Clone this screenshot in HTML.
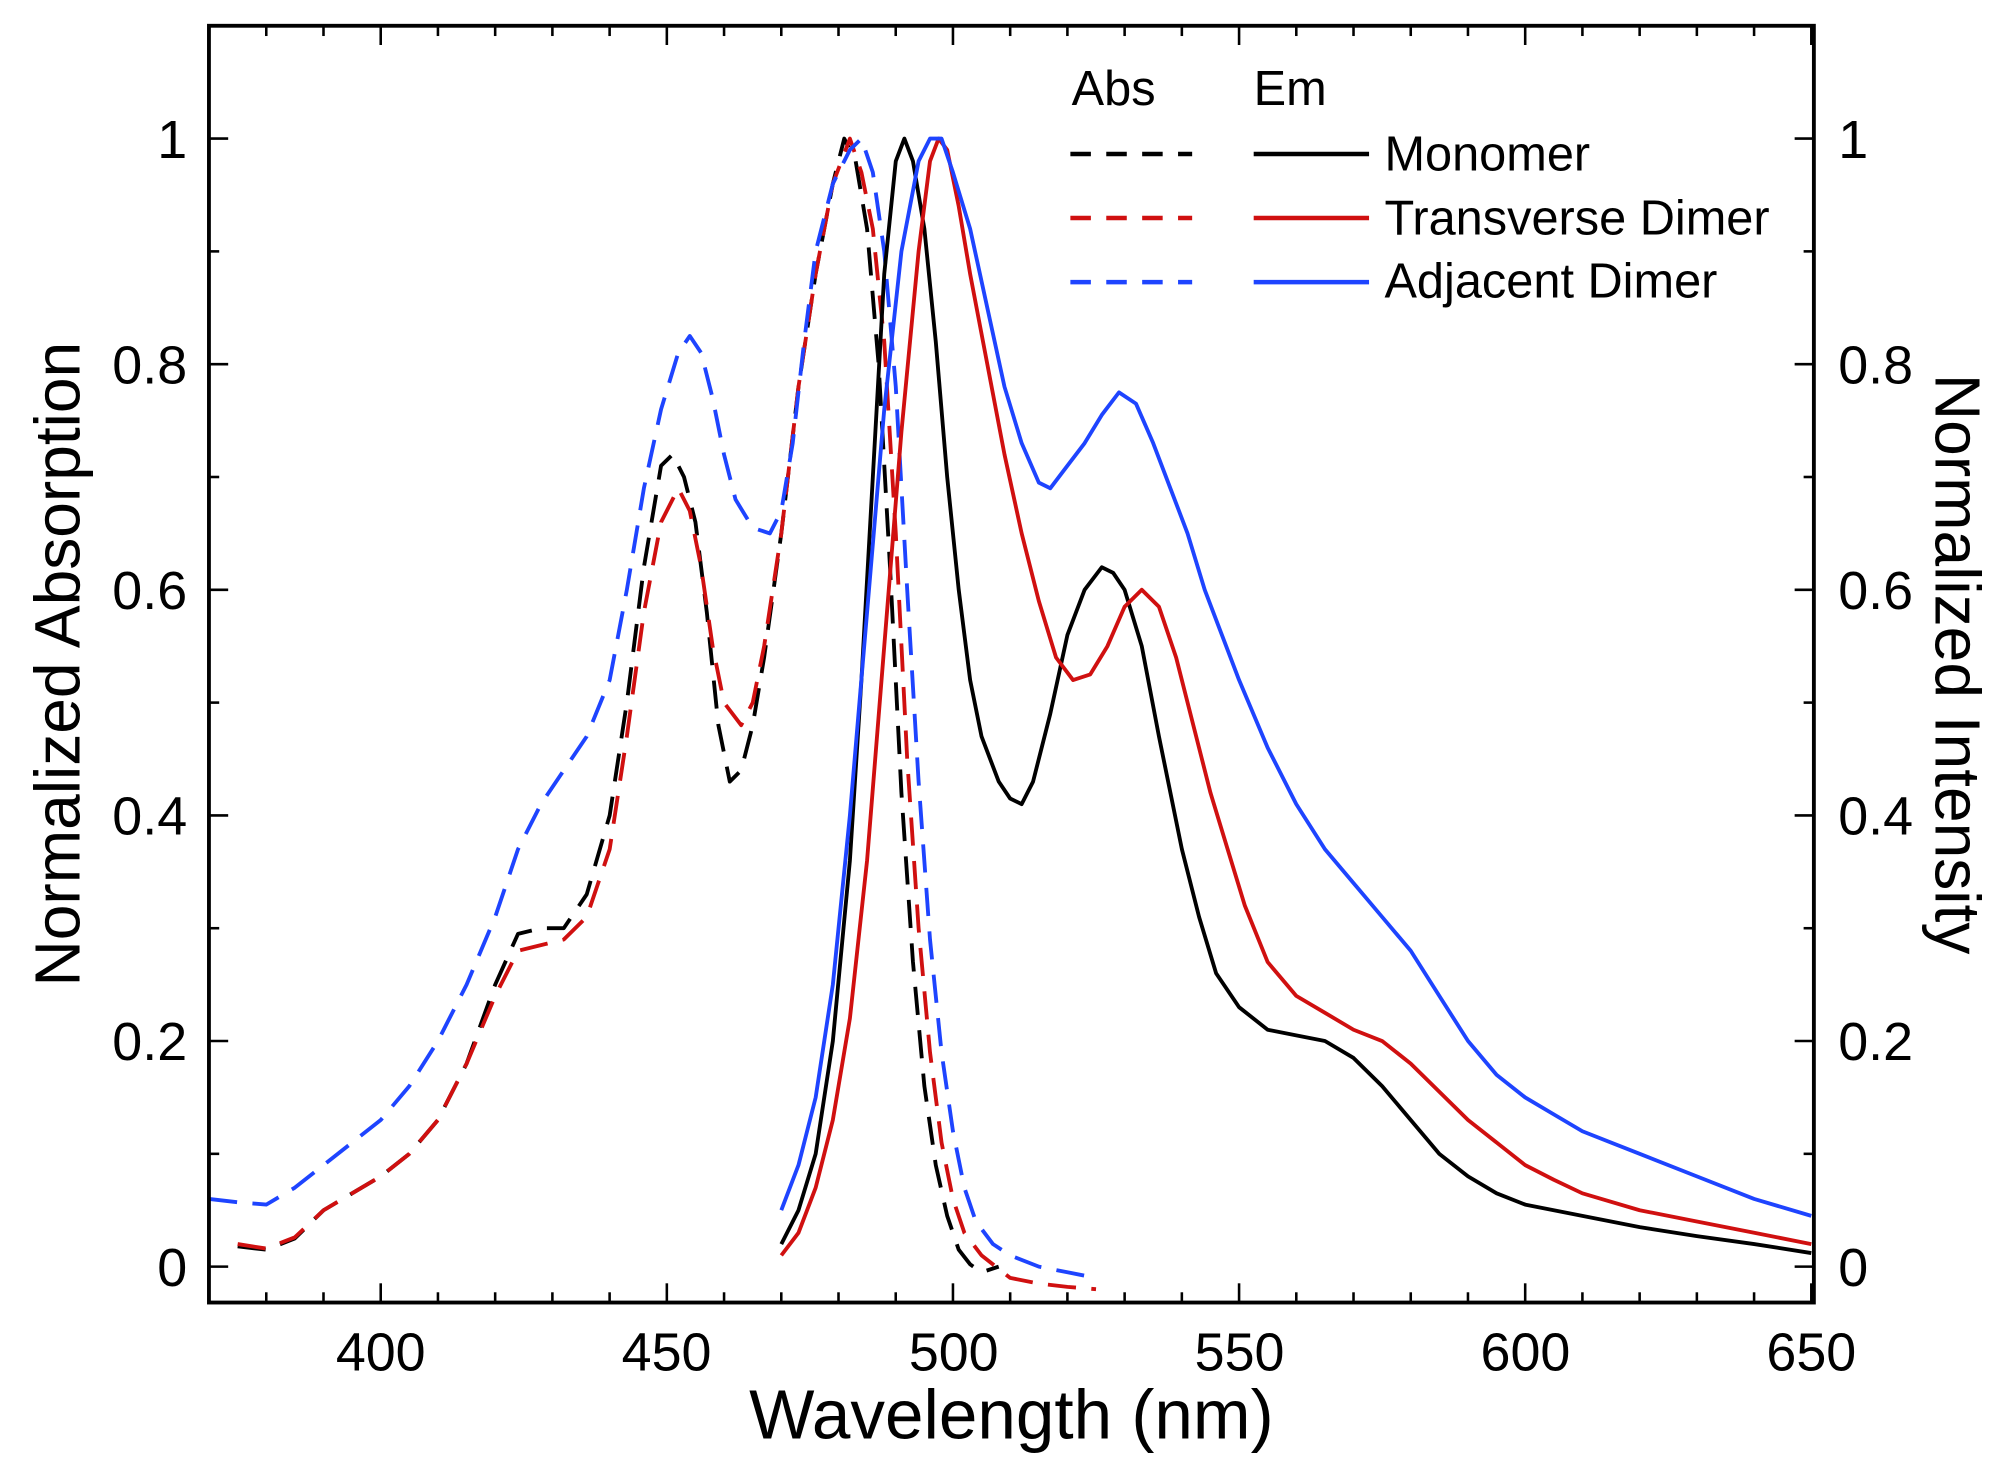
<!DOCTYPE html>
<html><head><meta charset="utf-8"><style>
html,body{margin:0;padding:0;background:#fff;}
svg{display:block;}
text{font-family:"Liberation Sans",Arial,sans-serif;fill:#000;}
</style></head><body>
<svg id="s" width="2010" height="1477" viewBox="0 0 1568 1152" xmlns="http://www.w3.org/2000/svg">
<rect width="1568" height="1152" fill="#fff"/>
<g id="ticks" stroke="#000" stroke-width="2"></g>
<g id="curves" fill="none" stroke-width="3" stroke-linejoin="round"></g>
<rect x="163" y="20" width="1252" height="996" fill="none" stroke="#000" stroke-width="3"/>
<g font-size="42" text-anchor="middle">
<text x="297" y="1069">400</text><text x="520" y="1069">450</text><text x="744" y="1069">500</text>
<text x="967" y="1069">550</text><text x="1190" y="1069">600</text><text x="1413" y="1069">650</text>
</g>
<g font-size="42" text-anchor="end">
<text x="146" y="1003">0</text><text x="146" y="827">0.2</text><text x="146" y="651">0.4</text>
<text x="146" y="475">0.6</text><text x="146" y="299">0.8</text><text x="146" y="123">1</text>
</g>
<g font-size="42" text-anchor="start">
<text x="1434" y="1003">0</text><text x="1434" y="827">0.2</text><text x="1434" y="651">0.4</text>
<text x="1434" y="475">0.6</text><text x="1434" y="299">0.8</text><text x="1434" y="123">1</text>
</g>
<text x="789" y="1122" font-size="54" text-anchor="middle">Wavelength (nm)</text>
<text transform="translate(62,518) rotate(-90)" font-size="50" text-anchor="middle">Normalized Absorption</text>
<text transform="translate(1510,518) rotate(90)" font-size="50" text-anchor="middle">Normalized Intensity</text>
<g font-size="38">
<text x="836" y="82">Abs</text><text x="978" y="82">Em</text>
<text x="1080" y="133">Monomer</text>
<text x="1080" y="183">Transverse Dimer</text>
<text x="1080" y="232">Adjacent Dimer</text>
</g>
<g stroke-width="3.5">
<line x1="835" y1="120" x2="930" y2="120" stroke="#000" stroke-dasharray="16,12"/>
<line x1="978" y1="120" x2="1068" y2="120" stroke="#000"/>
<line x1="835" y1="170" x2="930" y2="170" stroke="#d01010" stroke-dasharray="16,12"/>
<line x1="978" y1="170" x2="1068" y2="170" stroke="#d01010"/>
<line x1="835" y1="220" x2="930" y2="220" stroke="#1e44ff" stroke-dasharray="16,12"/>
<line x1="978" y1="220" x2="1068" y2="220" stroke="#1e44ff"/>
</g>
</svg>
<script>
var X=function(l){return 297+(l-400)*4.464;},Y=function(v){return 988-880*v;};
var t='';
for(var l=380;l<=650;l+=10){var x=X(l),L=(l%50==0)?15:8;t+='<line x1="'+x+'" y1="1016" x2="'+x+'" y2="'+(1016-L)+'"/><line x1="'+x+'" y1="20" x2="'+x+'" y2="'+(20+L)+'"/>';}
for(var i=0;i<=10;i++){var y=Y(i/10),L=(i%2==0)?15:8;t+='<line x1="163" y1="'+y+'" x2="'+(163+L)+'" y2="'+y+'"/><line x1="1415" y1="'+y+'" x2="'+(1415-L)+'" y2="'+y+'"/>';}
document.getElementById('ticks').innerHTML=t;
function P(a){var s='';for(var i=0;i<a.length;i+=2)s+=(i?'L':'M')+X(a[i]).toFixed(1)+','+Y(a[i+1]).toFixed(1);return s;}
var K='#000',R='#d01010',B='#1e44ff';
var C=[
[K,1,[375,.018,380,.015,385,.025,390,.05,395,.065,400,.08,405,.1,410,.13,415,.18,420,.25,424,.295,428,.3,432,.3,436,.33,440,.4,443,.5,446,.62,449,.71,451,.72,453,.7,455,.66,457,.58,459,.48,461,.43,463,.44,465,.48,467,.54,470,.65,473,.78,476,.88,479,.96,481,1.0,483,.98,485,.92,487,.8,489,.62,491,.42,493,.27,495,.16,497,.09,499,.045,501,.015,503,.002,505,-.005,508,0]],
[R,1,[375,.02,380,.016,385,.026,390,.05,395,.065,400,.08,405,.1,410,.13,415,.18,420,.24,424,.28,428,.285,432,.29,436,.31,440,.37,443,.47,446,.58,449,.66,452,.69,454,.67,456,.62,458,.55,460,.5,463,.48,465,.5,467,.55,470,.65,473,.78,476,.88,479,.96,482,1.0,484,.97,486,.92,488,.82,490,.65,492,.45,494,.3,496,.19,498,.11,500,.06,502,.03,505,.01,510,-.01,515,-.015,520,-.018,525,-.02]],
[B,1,[370,.06,375,.057,380,.055,385,.07,390,.09,395,.11,400,.13,405,.16,410,.2,415,.25,420,.31,424,.37,428,.41,432,.44,436,.47,440,.52,443,.6,446,.69,449,.76,452,.81,454,.825,456,.81,458,.77,460,.72,462,.68,465,.655,468,.65,470,.67,472,.73,474,.82,476,.9,479,.96,482,.99,484,1.0,486,.97,488,.9,490,.78,492,.6,494,.43,496,.29,498,.19,500,.12,502,.07,504,.04,507,.02,510,.01,515,0,520,-.005,525,-.01]],
[K,0,[470,.02,473,.05,476,.1,479,.2,482,.36,484,.52,486,.7,488,.88,490,.98,491.5,1.0,493,.98,495,.92,497,.82,499,.7,501,.6,503,.52,505,.47,508,.43,510,.415,512,.41,514,.43,517,.49,520,.56,523,.6,526,.62,528,.615,530,.6,533,.55,536,.47,540,.37,543,.31,546,.26,550,.23,555,.21,560,.205,565,.2,570,.185,575,.16,580,.13,585,.1,590,.08,595,.065,600,.055,610,.045,620,.035,630,.027,640,.02,650,.012]],
[R,0,[470,.01,473,.03,476,.07,479,.13,482,.22,485,.36,488,.55,491,.74,494,.9,496,.98,497.5,1.0,499,.99,501,.94,503,.88,506,.8,509,.72,512,.65,515,.59,518,.54,521,.52,524,.525,527,.55,530,.585,533,.6,536,.585,539,.54,542,.48,545,.42,548,.37,551,.32,555,.27,560,.24,565,.225,570,.21,575,.2,580,.18,585,.155,590,.13,595,.11,600,.09,605,.077,610,.065,620,.05,630,.04,640,.03,650,.02]],
[B,0,[470,.05,473,.09,476,.15,479,.25,482,.4,485,.58,488,.76,491,.9,494,.98,496,1.0,498,1.0,500,.97,503,.92,506,.85,509,.78,512,.73,515,.695,517,.69,520,.71,523,.73,526,.755,529,.775,532,.765,535,.73,538,.69,541,.65,544,.6,547,.56,550,.52,555,.46,560,.41,565,.37,570,.34,575,.31,580,.28,585,.24,590,.2,595,.17,600,.15,605,.135,610,.12,620,.1,630,.08,640,.06,650,.045]]
];
var g='';
C.forEach(function(c){g+='<path d="'+P(c[2])+'" stroke="'+c[0]+'"'+(c[1]?' stroke-dasharray="22,12"':'')+'/>';});
document.getElementById('curves').innerHTML=g;
</script>
</body></html>
